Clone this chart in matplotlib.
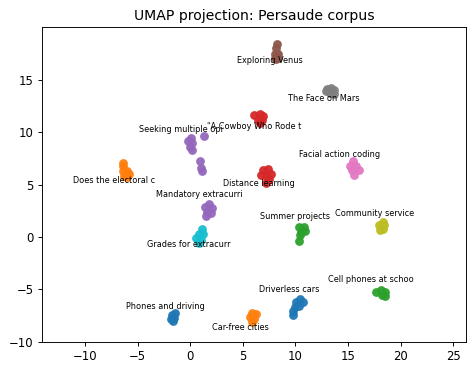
import matplotlib
matplotlib.use("Agg")
import matplotlib.pyplot as plt

# Cluster labels (text shown on the chart)
labels = [
    "Exploring Venus", "The Face on Mars", "\"A Cowboy Who Rode t",
    "Seeking multiple opi", "Does the electoral c", "Distance learning",
    "Facial action coding", "Mandatory extracurri", "Grades for extracurr",
    "Summer projects", "Community service", "Cell phones at schoo",
    "Driverless cars", "Car-free cities", "Phones and driving",
]
colors = ["C5", "C7", "C3", "C4", "C1", "C3", "C6", "C4", "C9",
          "C2", "C8", "C2", "C0", "C1", "C0"]

# Label anchor positions (data units)
label_x = [7.6, 12.7, 6.1, -0.9, -7.2, 6.5, 14.2, 0.9, -0.1, 10.0, 17.5, 17.2, 9.45, 4.8, -2.4]
label_y = [16.85, 13.2, 10.55, 10.25, 5.4, 5.1, 7.85, 4.05, -0.75, 1.9, 2.25, -4.05, -5.0, -8.6, -6.6]

# Embedding points, one list per cluster
pts_x = [
    [8.25, 8.2, 8.1, 8.35, 8.1, 8.35, 8.2, 8.25],
    [13.0, 13.4, 13.7, 13.3, 13.7, 12.9],
    [6.1, 6.6, 6.9, 6.4, 6.8, 6.6],
    [0.05, -0.2, 0.2, -0.05, 0.2, 1.3, 0.9, 1.0, 1.1],
    [-6.35, -6.35, -6.4, -6.0, -5.85, -6.3, -6.0],
    [6.9, 7.4, 7.7, 6.75, 7.2, 7.5, 7.2],
    [15.5, 15.15, 15.8, 15.35, 16.0, 15.6],
    [1.75, 1.4, 2.05, 1.6, 1.95, 1.55],
    [1.15, 0.8, 1.25, 0.6, 1.05, 0.85],
    [10.35, 10.85, 10.5, 10.9, 10.45, 10.35],
    [18.3, 17.95, 18.45, 18.05, 18.35],
    [17.7, 18.1, 18.5, 18.2, 18.55],
    [10.45, 10.05, 10.7, 9.95, 10.3, 9.75, 9.75],
    [5.85, 6.25, 5.7, 6.1, 5.9],
    [-1.45, -1.7, -1.85, -1.65, -1.5],
]
pts_y = [
    [18.4, 18.0, 17.5, 17.5, 17.05, 17.05, 16.95, 17.4],
    [14.15, 14.25, 14.0, 13.75, 13.65, 13.9],
    [11.6, 11.7, 11.55, 11.2, 11.2, 10.85],
    [9.45, 9.2, 9.0, 8.6, 8.3, 9.6, 7.2, 6.6, 6.3],
    [7.1, 6.8, 6.3, 6.3, 6.05, 5.85, 5.7],
    [6.35, 6.45, 6.05, 5.9, 5.8, 5.55, 5.1],
    [7.2, 6.8, 6.8, 6.35, 6.35, 5.95],
    [3.15, 2.9, 2.8, 2.4, 2.25, 1.95],
    [0.75, 0.3, 0.3, -0.15, -0.25, -0.55],
    [0.95, 0.95, 0.5, 0.6, 0.15, -0.35],
    [1.45, 1.1, 1.1, 0.65, 0.75],
    [-5.25, -5.05, -5.3, -5.55, -5.65],
    [-5.95, -6.2, -6.2, -6.65, -6.55, -7.1, -7.5],
    [-7.25, -7.4, -7.65, -7.8, -8.1],
    [-7.25, -7.5, -7.85, -8.05, -7.7],
]
sizes = [40, 40, 40, 40, 40, 40, 40, 40, 40, 40, 40, 40, 40, 40, 40]

fig = plt.figure(figsize=(4.74, 3.72), dpi=100)
ax = fig.add_axes([0.088, 0.0815, 0.895, 0.845])

for xs, ys, c, s in zip(pts_x, pts_y, colors, sizes):
    ax.scatter(xs, ys, s=s, c=c, linewidths=0, alpha=0.95)

for lx, ly, t in zip(label_x, label_y, labels):
    ax.text(lx, ly, t, fontsize=5.9, ha="center", va="center", color="black")

ax.set_xlim(-14.1, 26.2)
ax.set_ylim(-10, 20.0)
ax.set_xticks([-10, -5, 0, 5, 10, 15, 20, 25])
ax.set_yticks([-10, -5, 0, 5, 10, 15])
ax.tick_params(labelsize=8.4, length=2.9, width=0.67, pad=2.9)
for sp in ax.spines.values():
    sp.set_linewidth(0.67)
ax.set_title("UMAP projection: Persaude corpus", fontsize=10.1, pad=5)

fig.savefig("out.png", dpi=100)
